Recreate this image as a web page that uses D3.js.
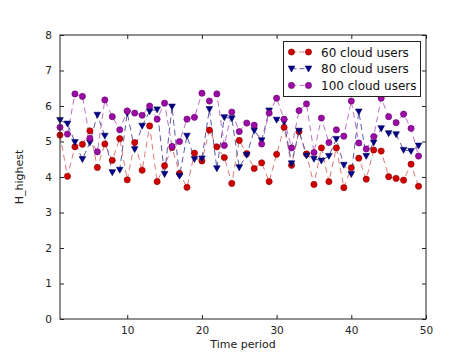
<!DOCTYPE html>
<html><head><meta charset="utf-8">
<script src="https://cdn.jsdelivr.net/npm/d3@7"></script>
<style>body{margin:0;background:#fff}svg{display:block;font-family:"DejaVu Sans",sans-serif}</style>
</head><body><svg id="c" width="474" height="355"></svg>
<script>
const periods = d3.range(1, 50);
const users60 = [5.18,4.02,4.85,4.92,5.3,4.27,4.93,4.47,5.08,3.92,4.97,4.19,5.44,3.87,4.32,4.83,4.1,3.71,4.67,4.45,5.32,4.85,4.55,3.82,5.03,4.66,4.24,4.4,3.87,4.64,5.4,4.33,5.28,4.65,3.79,4.82,3.87,4.82,3.7,4.26,4.53,3.94,4.76,4.73,4.01,3.96,3.91,4.36,3.74];
const users80 = [5.6,5.5,4.98,4.5,4.97,5.75,5.16,4.13,4.2,5.8,4.78,5.44,5.85,5.9,4.08,5.98,4.03,5.16,4.5,4.52,5.91,4.24,5.68,5.65,4.27,4.62,5.31,5.03,5.87,5.61,5.55,4.38,5.3,4.6,4.51,4.46,4.59,5.07,4.34,4.08,5.84,4.59,4.97,5.37,5.23,5.2,4.76,4.73,4.88];
const users100 = [5.4,5.21,6.34,6.27,5.09,4.71,6.17,5.7,5.33,5.86,5.8,5.74,6.0,5.63,6.08,4.86,5.0,5.63,5.68,6.36,6.14,6.34,4.89,5.83,5.28,5.52,5.46,4.93,5.8,6.22,5.63,4.82,5.87,6.06,4.69,5.66,4.97,5.33,5.15,6.14,4.96,4.79,5.14,6.22,5.7,5.53,5.77,5.37,4.59];
const xTicks = [10,20,30,40,50];
const yTicks = [0,1,2,3,4,5,6,7,8];
const seriesNames = ["60 cloud users","80 cloud users","100 cloud users"];
const seriesColors = ["#d00000","#00008b","#9a0ca6"];
const lineColors = ["#e07a7a","#5a5aa8","#c070c8"];
const edgeColors = ["#8b0000","#00005a","#6a006a"];
const seriesShapes = ["circle","tri","circle"];
const seriesData = [users60, users80, users100];

const svg = d3.select("#c");
const L=60, R=426, T=35, B=319;
const x = d3.scaleLinear().domain([1,50]).range([L,R]);
const y = d3.scaleLinear().domain([0,8]).range([B,T]);

seriesData.forEach((vals,i)=>{
  const pts = periods.map((p,j)=>[p,vals[j]]);
  svg.append("path").attr("d", d3.line().x(d=>x(d[0])).y(d=>y(d[1]))(pts))
    .attr("fill","none").attr("stroke",lineColors[i]).attr("stroke-width",1)
    .attr("stroke-dasharray","6,4");
});
function drawMarker(g, shape, cx, cy, i){
  if(shape==="circle"){
    g.append("circle").attr("cx",cx).attr("cy",cy).attr("r",3.1)
      .attr("fill",seriesColors[i]).attr("stroke",edgeColors[i]).attr("stroke-width",0.6);
  } else {
    const s=3.3;
    g.append("path").attr("d",`M${cx-s},${cy-s*0.8}L${cx+s},${cy-s*0.8}L${cx},${cy+s}Z`)
      .attr("fill",seriesColors[i]).attr("stroke",edgeColors[i]).attr("stroke-width",0.6);
  }
}
seriesData.forEach((vals,i)=>{
  const g = svg.append("g");
  periods.forEach((p,j)=>drawMarker(g, seriesShapes[i], x(p), y(vals[j]), i));
});

svg.append("rect").attr("x",L).attr("y",T).attr("width",R-L).attr("height",B-T)
  .attr("fill","none").attr("stroke","#222").attr("stroke-width",1);

const ax = svg.append("g").attr("transform",`translate(0,${B})`)
  .call(d3.axisBottom(x).tickValues(xTicks).tickSize(-4).tickPadding(8));
const axT = svg.append("g").attr("transform",`translate(0,${T})`)
  .call(d3.axisTop(x).tickValues(xTicks).tickSize(-4).tickFormat(""));
const ay = svg.append("g").attr("transform",`translate(${L},0)`)
  .call(d3.axisLeft(y).tickValues(yTicks).tickSize(-4).tickPadding(8));
const ayR = svg.append("g").attr("transform",`translate(${R},0)`)
  .call(d3.axisRight(y).tickValues(yTicks).tickSize(-4).tickFormat(""));
[ax,axT,ay,ayR].forEach(a=>{
  a.select(".domain").remove();
  a.selectAll(".tick line").attr("stroke","#222");
  a.selectAll("text").attr("font-size",10.5).attr("fill","#222").attr("font-family","DejaVu Sans");
});

svg.append("text").attr("x",(L+R)/2).attr("y",348).attr("text-anchor","middle")
  .attr("font-size",11).attr("fill","#222").text("Time period");
svg.append("text").attr("transform",`translate(23,${(T+B)/2}) rotate(-90)`).attr("text-anchor","middle")
  .attr("font-size",11).attr("fill","#222").text("H_highest");

const lg = svg.append("g");
lg.append("rect").attr("x",283.5).attr("y",41.5).attr("width",137).attr("height",55)
  .attr("fill","#fff").attr("stroke","#222").attr("stroke-width",1);
seriesNames.forEach((n,i)=>{
  const yy = 52 + i*16.7;
  lg.append("line").attr("x1",291.5).attr("x2",308.5).attr("y1",yy).attr("y2",yy)
    .attr("stroke",lineColors[i]).attr("stroke-dasharray","5,3");
  drawMarker(lg, seriesShapes[i], 291.5, yy, i);
  drawMarker(lg, seriesShapes[i], 308.5, yy, i);
  lg.append("text").attr("x",321).attr("y",yy+4.5).attr("font-size",12).attr("fill","#111").text(n);
});
</script></body></html>
